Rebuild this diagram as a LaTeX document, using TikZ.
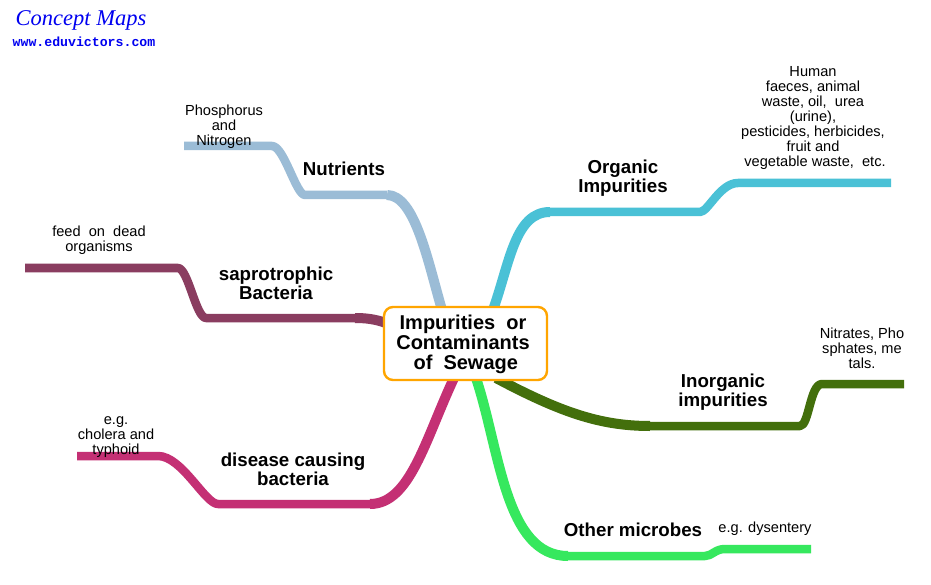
\documentclass[tikz,border=0pt]{standalone}
\usepackage{fontspec}
\setmainfont{Liberation Sans}
\newfontfamily\monofam{Liberation Mono}
\newfontfamily\scriptfam{Liberation Serif}
\usetikzlibrary{backgrounds}
\definecolor{cnut}{HTML}{9BBCD6}
\definecolor{csap}{HTML}{8A3D60}
\definecolor{cdis}{HTML}{C43074}
\definecolor{corg}{HTML}{4AC1D6}
\definecolor{cino}{HTML}{436F0C}
\definecolor{coth}{HTML}{36E85E}
\definecolor{corange}{HTML}{FFA500}
\definecolor{cblue}{HTML}{0000F0}
\tikzset{
 branch/.style={line width=8.5pt,line cap=butt,line join=round},
 trunk/.style={line width=10pt,line cap=butt,line join=round},
 small/.style={inner sep=0pt,align=center,font=\fontsize{14.6}{15}\selectfont},
 big/.style={inner sep=0pt,align=center,font=\fontsize{18.7}{19}\selectfont\bfseries},
 hub/.style={draw=corange,line width=2.4pt,fill=white,rounded corners=9pt,minimum width=163pt,minimum height=73pt,inner sep=0pt,align=center},
}
\begin{document}
\begin{tikzpicture}[x=1pt,y=-1pt]
\useasboundingbox (0,0) rectangle (931,585);
\node[hub] (hub) at (465.5,343.5) {};
\node[inner sep=0pt,align=center,font=\fontsize{20}{20}\selectfont\bfseries] (hubt) at (463,344.5) {Impurities\ \ or\\Contaminants\\\ of\ \ Sewage};
\node[inner sep=0pt,font=\fontsize{22.5}{20}\selectfont\scriptfam\itshape,text=cblue] (title) at (81,20) {Concept Maps};
\node[inner sep=0pt,font=\fontsize{13.2}{14}\selectfont\monofam\bfseries,text=cblue] (web) at (84,42) {www.eduvictors.com};
% big labels
\node[big] (nut) at (344,169) {Nutrients};
\node[big] (sap) at (276,283.5) {saprotrophic\\Bacteria};
\node[big] (dis) at (293,469.5) {disease causing\\bacteria};
\node[big] (org) at (623,178.5) {Organic\\Impurities};
\node[big] (ino) at (723,392.5) {Inorganic\\impurities};
\node[big] (oth) at (633,530) {Other microbes};
% coordinates
\coordinate (n0) at (442,310); \coordinate (n1) at (387,195); \coordinate (n2) at (305,195); \coordinate (n3) at (272,146); \coordinate (n4) at (184,146);
\coordinate (s0) at (386,323); \coordinate (s1) at (355,318); \coordinate (s2) at (206,318); \coordinate (s3) at (178,268); \coordinate (s4) at (25,268);
\coordinate (d0) at (454,378); \coordinate (d1) at (370,504); \coordinate (d2) at (218,504); \coordinate (d3) at (158,456); \coordinate (d4) at (77,456);
\coordinate (o0) at (493,310); \coordinate (o1) at (550,212); \coordinate (o2) at (700,212); \coordinate (o3) at (738,183); \coordinate (o4) at (891,183);
\coordinate (i0) at (496,378); \coordinate (i1) at (650,426); \coordinate (i2) at (800,426); \coordinate (i3) at (822,384); \coordinate (i4) at (904,384);
\coordinate (g0) at (476,378); \coordinate (g1) at (568,556); \coordinate (g2) at (705,556); \coordinate (g3) at (725,549); \coordinate (g4) at (811,549);
\begin{scope}[on background layer]
\fill[white] (0,0) rectangle (931,585);
\draw[trunk,cnut] (n0) .. controls (428,262) and (415,195) .. (n1);
\draw[branch,cnut] (n1) -- (n2) .. controls (296,195) and (284,146) .. (n3) -- (n4);
\draw[trunk,csap] (s0) .. controls (375,319) and (365,318) .. (s1);
\draw[branch,csap] (s1) -- (s2) .. controls (196,318) and (188,268) .. (s3) -- (s4);
\draw[trunk,cdis] (d0) .. controls (425,440) and (410,504) .. (d1);
\draw[branch,cdis] (d1) -- (d2) .. controls (205,504) and (182,456) .. (d3) -- (d4);
\draw[trunk,corg] (o0) .. controls (510,262) and (515,212) .. (o1);
\draw[branch,corg] (o1) -- (o2) .. controls (708,212) and (720,183) .. (o3) -- (o4);
\draw[trunk,cino] (i0) .. controls (560,412) and (600,426) .. (i1);
\draw[branch,cino] (i1) -- (i2) .. controls (809,426) and (810,384) .. (i3) -- (i4);
\draw[trunk,coth] (g0) .. controls (500,450) and (505,556) .. (g1);
\draw[branch,coth] (g1) -- (g2) .. controls (712,556) and (715,549) .. (g3) -- (g4);
\end{scope}
% small labels
\node[small] (nutl) at (224,127) {Phosphorus\\and\\Nitrogen};
\node[small] (sapl) at (99,240) {feed\ \ on\ \ dead\\organisms};
\node[small] (disl) at (116,437) {e.g.\\cholera and\\typhoid};
\node[small] (orgl) at (813,118) {Human\\faeces, animal\\waste, oil,\ \ urea\\(urine),\\pesticides, herbicides,\\fruit and\\\ vegetable waste,\ \ etc.};
\node[small] (inol) at (862,348) {Nitrates, Pho\\sphates, me\\tals.};
\node[small] (othl) at (765,528.5) {e.g. dysentery};
\end{tikzpicture}
\end{document}
